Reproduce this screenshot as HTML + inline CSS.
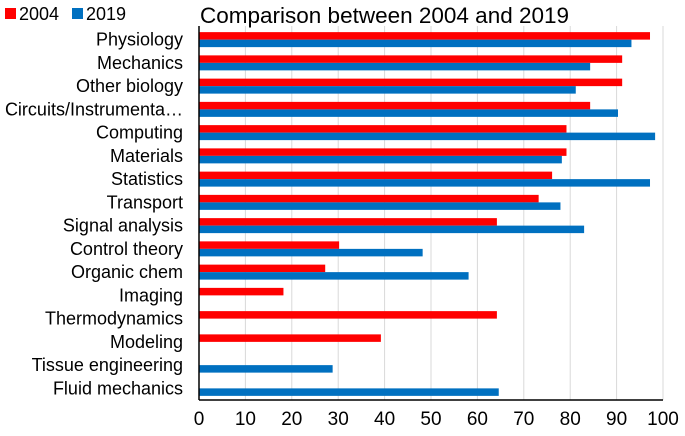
<!DOCTYPE html>
<html><head><meta charset="utf-8"><style>
body{margin:0;background:#fff;}
svg{display:block;font-family:"Liberation Sans",Arial,sans-serif;}
</style></head><body>
<svg id="chart" width="685" height="436" xmlns="http://www.w3.org/2000/svg">
<text x="200" y="23" font-size="22.5" fill="#000">Comparison between 2004 and 2019</text>
<g>
<rect x="5" y="8" width="11" height="11" fill="#ff0000"/>
<text x="19" y="20" font-size="18">2004</text>
<rect x="72" y="8" width="11" height="11" fill="#0070c0"/>
<text x="86" y="20" font-size="18">2019</text>
</g>
<g id="grid"></g><g id="bars"></g><g id="labels"></g>
</svg>
<script>
const categories=["Physiology","Mechanics","Other biology","Circuits/Instrumenta…","Computing","Materials","Statistics","Transport","Signal analysis","Control theory","Organic chem","Imaging","Thermodynamics","Modeling","Tissue engineering","Fluid mechanics"];
const values2004=[97.2,91.2,91.2,84.3,79.2,79.2,76.1,73.2,64.2,30.2,27.2,18.2,64.2,39.2,0,0];
const values2019=[93.2,84.3,81.2,90.3,98.3,78.2,97.2,77.9,83,48.2,58.1,0,0,0,28.8,64.6];
const xTicks=[0,10,20,30,40,50,60,70,80,90,100];
const NS="http://www.w3.org/2000/svg";
const x0=199,x1=663,plotTop=28,plotBottom=400;
const band=(plotBottom-plotTop)/categories.length;
const xs=v=>x0+(v/100)*(x1-x0);
const yb=i=>plotTop+i*band;
function mk(tag,attrs,parent){const e=document.createElementNS(NS,tag);for(const k in attrs)e.setAttribute(k,attrs[k]);parent.appendChild(e);return e;}
const grid=document.getElementById('grid'),bars=document.getElementById('bars'),labels=document.getElementById('labels');
xTicks.forEach(t=>{
  if(t>0){const g=mk('line',{x1:xs(t),x2:xs(t),y1:plotTop-2,y2:plotBottom,stroke:'#d9d9d9','stroke-width':1},grid);
  
  }
  const tx=mk('text',{x:xs(t),y:plotBottom+25,'font-size':19,'text-anchor':'middle'},labels);
  tx.textContent=t;
  
  
});
categories.forEach((c,i)=>{
  const y=yb(i);
  const bh=7.5,mid=y+band/2;
  if(values2004[i]>0){const r=mk('rect',{x:x0,y:mid-bh,width:xs(values2004[i])-x0,height:bh,fill:'#ff0000'},bars);
  
  }
  if(values2019[i]>0){const r=mk('rect',{x:x0,y:mid,width:xs(values2019[i])-x0,height:bh,fill:'#0070c0'},bars);
  
  }
  const t=mk('text',{x:183,y:mid+6,'font-size':18,'text-anchor':'end'},labels);
  t.textContent=c;
  
  
});
const ax=mk('line',{x1:x0,x2:x0,y1:plotTop-2,y2:plotBottom,stroke:'#000','stroke-width':1.5},labels);


const bx=mk('line',{x1:x0,x2:x1,y1:plotBottom,y2:plotBottom,stroke:'#000','stroke-width':1.5},labels);


</script>
</body></html>
